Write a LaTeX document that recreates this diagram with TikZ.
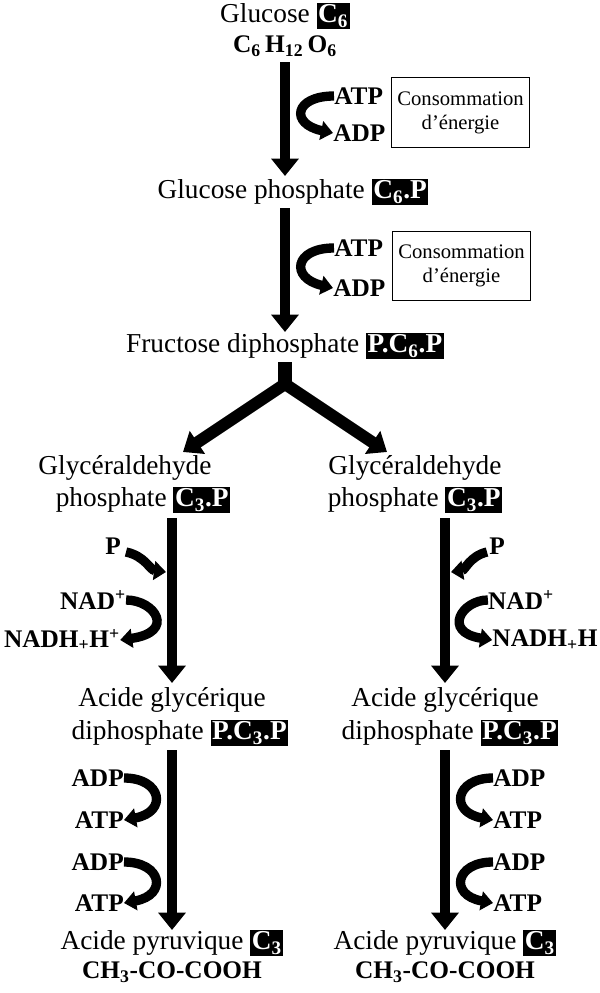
\documentclass[tikz,border=0pt]{standalone}
\usepackage{fontspec}
\setmainfont{Liberation Serif}
\usetikzlibrary{arrows.meta}
\newcommand\bx[1]{{\setlength{\fboxsep}{1.2pt}\colorbox{black}{\textcolor{white}{\bfseries #1}}}}
\newcommand\mysb[1]{\textsubscript{#1}}
\newcommand\mysp[1]{\textsuperscript{#1}}
\begin{document}
\begin{tikzpicture}[x=0.75pt,y=-0.75pt,
  lbl/.style={font=\fontsize{20.5}{23}\selectfont,align=center,inner sep=0pt},
  bl/.style={font=\fontsize{19}{21}\selectfont\bfseries,inner sep=0pt},
  main/.style={line width=7.5pt,-{Triangle[width=20pt,length=13pt]}},
  curv/.style={line width=7pt,-{Triangle[width=14pt,length=9pt]}},
  ebox/.style={draw,line width=0.6pt,font=\fontsize{15.5}{18}\selectfont,align=center,minimum width=103pt,minimum height=52pt,inner sep=1pt}]
\useasboundingbox (0,0) rectangle (600,993);
% top
\node[lbl] (g) at (285,16) {Glucose \bx{C\mysb{6}}};
\node[bl] (gf) at (285,46) {C\mysb{6}\,H\mysb{12}\,O\mysb{6}};
\coordinate (a1s) at (285,62); \coordinate (a1e) at (285,176);
\draw[main] (a1s) -- (a1e);
\node[bl,anchor=west] (atp1) at (334,96) {ATP};
\node[bl,anchor=west] (adp1) at (333,133) {ADP};
\draw[curv] (atp1.west) .. controls (294,96) and (290,124) .. (adp1.west);
\node[ebox] (e1) at (460.5,112.5) {Consommation\\d'énergie};
\node[lbl] (gp) at (293,192) {Glucose phosphate \bx{C\mysb{6}.P}};
\coordinate (a2s) at (285,208); \coordinate (a2e) at (285,332);
\draw[main] (a2s) -- (a2e);
\node[bl,anchor=west] (atp2) at (334,248) {ATP};
\node[bl,anchor=west] (adp2) at (333,288) {ADP};
\draw[curv] (atp2.west) .. controls (294,248) and (290,278) .. (adp2.west);
\node[ebox] (e2) at (461.5,266) {Consommation\\d'énergie};
\node[lbl] (fd) at (285,346) {Fructose diphosphate \bx{P.C\mysb{6}.P}};
% branch
\coordinate (b0) at (285,362); \coordinate (b1) at (285,384);
\coordinate (bl) at (183,452); \coordinate (br) at (387,452);
\draw[line width=10pt] (b0) -- (b1);
\draw[main,line width=9pt] (b1) -- (bl);
\draw[main,line width=9pt] (b1) -- (br);
% left column
\node[lbl] (lg) at (125,468) {Glycéraldehyde};
\node[lbl] (lp) at (143,500) {phosphate \bx{C\mysb{3}.P}};
\coordinate (l1s) at (172,518); \coordinate (l1e) at (172,683);
\draw[main] (l1s) -- (l1e);
\node[bl] (lP) at (113,546) {P};
\draw[curv] (126,552) .. controls (145,556) and (150,570) .. (166,572);
\node[bl] (lnad) at (93,600) {NAD\mysp{+}};
\node[bl] (lnadh) at (62,640) {NADH\mysb{+}H\mysp{+}};
\draw[curv] (lnad.east) .. controls (155,600) and (176,632) .. (lnadh.east);
\node[lbl] (lag) at (172,700) {Acide glycérique};
\node[lbl] (lad) at (180,733) {diphosphate \bx{P.C\mysb{3}.P}};
\coordinate (l2s) at (172,750); \coordinate (l2e) at (172,930);
\draw[main] (l2s) -- (l2e);
\node[bl,anchor=east] (ladp1) at (124,778) {ADP};
\node[bl,anchor=east] (latp1) at (124,820) {ATP};
\node[bl,anchor=east] (ladp2) at (124,862) {ADP};
\node[bl,anchor=east] (latp2) at (124,903) {ATP};
\draw[curv] (ladp1.east) .. controls (162,778) and (168,812) .. (latp1.east);
\draw[curv] (ladp2.east) .. controls (162,862) and (168,895) .. (latp2.east);
\node[lbl] (lpy) at (172,943) {Acide pyruvique \bx{C\mysb{3}}};
\node[bl] (lpf) at (172,972) {CH\mysb{3}-CO-COOH};
% right column
\node[lbl] (rg) at (415,468) {Glycéraldehyde};
\node[lbl] (rp) at (415,500) {phosphate \bx{C\mysb{3}.P}};
\coordinate (r1s) at (445,518); \coordinate (r1e) at (445,683);
\draw[main] (r1s) -- (r1e);
\node[bl] (rP) at (497,546) {P};
\draw[curv] (487,552) .. controls (470,556) and (465,570) .. (451,572);
\node[bl] (rnad) at (521,600) {NAD\mysp{+}};
\node[bl] (rnadh) at (545,640) {NADH\mysb{+}H};
\draw[curv] (rnad.west) .. controls (462,600) and (442,632) .. (rnadh.west);
\node[lbl] (rag) at (445,700) {Acide glycérique};
\node[lbl] (rad) at (450,733) {diphosphate \bx{P.C\mysb{3}.P}};
\coordinate (r2s) at (445,750); \coordinate (r2e) at (445,930);
\draw[main] (r2s) -- (r2e);
\node[bl,anchor=west] (radp1) at (493,778) {ADP};
\node[bl,anchor=west] (ratp1) at (493,820) {ATP};
\node[bl,anchor=west] (radp2) at (493,862) {ADP};
\node[bl,anchor=west] (ratp2) at (493,903) {ATP};
\draw[curv] (radp1.west) .. controls (455,778) and (449,812) .. (ratp1.west);
\draw[curv] (radp2.west) .. controls (455,862) and (449,895) .. (ratp2.west);
\node[lbl] (rpy) at (445,943) {Acide pyruvique \bx{C\mysb{3}}};
\node[bl] (rpf) at (445,972) {CH\mysb{3}-CO-COOH};
\end{tikzpicture}
\end{document}
